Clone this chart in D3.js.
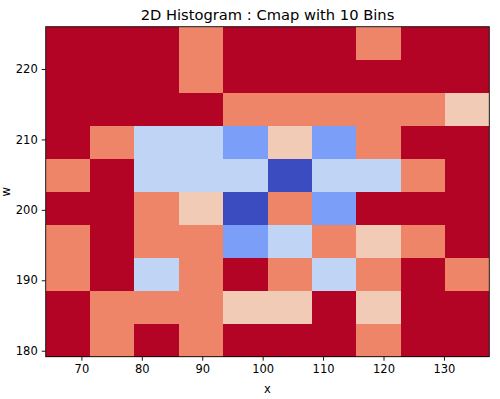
<!DOCTYPE html>
<html>
<head>
<meta charset="utf-8">
<script src="https://cdn.jsdelivr.net/npm/d3@7/dist/d3.min.js"></script>
<style>
  html, body { margin: 0; padding: 0; background: #fff; }
  svg { display: block; font-family: "DejaVu Sans", sans-serif; }
</style>
</head>
<body>
<svg id="chart" width="500" height="399"></svg>
<script>
// ---- data ----
const title = "2D Histogram : Cmap with 10 Bins";
const xLabel = "x";
const yLabel = "w";
const xEdges = [64.09, 71.43, 78.77, 86.12, 93.46, 100.80, 108.14, 115.48, 122.83, 130.17, 137.51];
const yEdges = [179.15, 183.84, 188.52, 193.21, 197.89, 202.58, 207.27, 211.95, 216.64, 221.32, 226.01];
// counts[i][j]: i = y bin (bottom to top), j = x bin (left to right)
const counts = [
  [0,1,0,1,0,0,0,1,0,0],
  [0,1,1,1,2,2,0,2,0,0],
  [1,0,3,1,0,1,3,1,0,1],
  [1,0,1,1,4,3,1,2,1,0],
  [0,0,1,2,5,1,4,0,0,0],
  [1,0,3,3,3,5,3,3,1,0],
  [0,1,3,3,4,2,4,1,0,0],
  [0,0,0,0,1,1,1,1,1,2],
  [0,0,0,1,0,0,0,0,0,0],
  [0,0,0,1,0,0,0,1,0,0]
];
const countLevels = [0, 1, 2, 3, 4, 5];
const levelColors = ["#b40426", "#ee8468", "#f2cbb7", "#c0d4f5", "#7b9ff9", "#3b4cc0"];
const xTicks = [70, 80, 90, 100, 110, 120, 130];
const yTicks = [180, 190, 200, 210, 220];

// ---- layout ----
const svg = d3.select("#chart");
const mLeft = 45.7, mRight = 489.3, mTop = 26.7, mBottom = 356.7;

const x = d3.scaleLinear().domain([xEdges[0], xEdges[xEdges.length - 1]]).range([mLeft, mRight]);
const y = d3.scaleLinear().domain([yEdges[0], yEdges[yEdges.length - 1]]).range([mBottom, mTop]);
const color = d3.scaleOrdinal().domain(countLevels).range(levelColors);

const cells = [];
counts.forEach((row, i) => row.forEach((c, j) => cells.push({i, j, c})));

svg.append("g").attr("shape-rendering", "crispEdges")
  .selectAll("rect").data(cells).join("rect")
  .attr("x", d => x(xEdges[d.j]))
  .attr("y", d => y(yEdges[d.i + 1]))
  .attr("width", d => x(xEdges[d.j + 1]) - x(xEdges[d.j]))
  .attr("height", d => y(yEdges[d.i]) - y(yEdges[d.i + 1]))
  .attr("fill", d => color(d.c));

// axes
const fontSize = 11.5;
const xAxis = svg.append("g").attr("transform", `translate(0,${mBottom})`)
  .call(d3.axisBottom(x).tickValues(xTicks).tickSize(4).tickPadding(4).tickFormat(d3.format("d")));
const yAxis = svg.append("g").attr("transform", `translate(${mLeft},0)`)
  .call(d3.axisLeft(y).tickValues(yTicks).tickSize(4).tickPadding(4).tickFormat(d3.format("d")));
[xAxis, yAxis].forEach(g => {
  g.select(".domain").remove();
  g.selectAll("text").attr("font-size", fontSize).attr("font-family", "DejaVu Sans").attr("fill", "#000");
  g.selectAll("line").attr("stroke", "#000").attr("stroke-width", 0.9);
});

// frame
svg.append("rect")
  .attr("x", mLeft).attr("y", mTop)
  .attr("width", mRight - mLeft).attr("height", mBottom - mTop)
  .attr("fill", "none").attr("stroke", "#000").attr("stroke-width", 0.9);

// title and labels
svg.append("text").attr("x", (mLeft + mRight) / 2).attr("y", 20)
  .attr("text-anchor", "middle").attr("font-size", 14.7).attr("fill", "#000").text(title);
svg.append("text").attr("x", (mLeft + mRight) / 2).attr("y", 393)
  .attr("text-anchor", "middle").attr("font-size", fontSize).attr("fill", "#000").text(xLabel);
svg.append("text").attr("transform", `translate(10,${(mTop + mBottom) / 2}) rotate(-90)`)
  .attr("text-anchor", "middle").attr("font-size", fontSize).attr("fill", "#000").text(yLabel);
</script>
</body>
</html>
